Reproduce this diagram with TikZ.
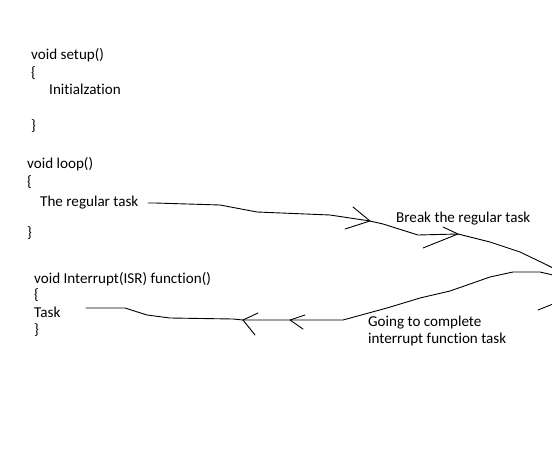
\documentclass[tikz,border=0pt]{standalone}
\usepackage{fontspec}
\setmainfont[Ligatures={NoCommon}]{Carlito}
\usetikzlibrary{positioning}

\tikzset{
  codetext/.style={anchor=base west, inner sep=0pt, font=\fontsize{15.1}{18}\selectfont},
  sketch/.style={line width=0.9pt, line join=round, line cap=round},
}

\begin{document}
\begin{tikzpicture}[x=1pt,y=-1pt]
              \useasboundingbox[fill=white] (0,0) rectangle (552,460);

              % Setup block
              \node[codetext] (setup) at (31,59.5) {void setup()};
              \node[codetext] (setupopen) at (31,77.5) {\{};
              \node[codetext] (init) at (49,95) {Initialzation};
              \node[codetext] (setupclose) at (31,131) {\}};

              % Loop block
              \node[codetext] (loop) at (27,168) {void loop()};
              \node[codetext] (loopopen) at (27,186) {\{};
              \node[codetext] (regular) at (40,206) {The regular task};
              \node[codetext] (loopclose) at (27,237) {\}};

              % Interrupt block
              \node[codetext] (isr) at (34,283) {void Interrupt(ISR) function()};
              \node[codetext] (isropen) at (34,299) {\{};
              \node[codetext] (task) at (34,317) {Task};
              \node[codetext] (isrclose) at (34,334) {\}};

              % Labels along the way
              \node[codetext] (break) at (396,222) {Break the regular task};
              \node[codetext] (going) at (368,326) {Going to complete};
              \node[codetext] (complete) at (368,343) {interrupt function task};

              % Points of the hand drawn path
              \coordinate (regstart) at (148,203);
              \coordinate (tipa) at (370,221);
              \coordinate (tipb) at (458,234);
              \coordinate (outtop) at (553,268);
              \coordinate (inlow) at (553,275);
              \coordinate (tipc) at (290,320);
              \coordinate (tipd) at (243,320);
              \coordinate (taskend) at (86,308);

              % Going out to the interrupt
              \draw[sketch] (regstart) -- (155,203) -- (220,205) -- (257,212) -- (330,215) -- (tipa)
                -- (383,224) -- (418,235) -- (tipb) -- (490,242) -- (520,252) -- (547,265) -- (outtop);
              \draw[sketch] (353,207) -- (tipa) -- (345,229);
              \draw[sketch] (443,227) -- (tipb) -- (423,248);

              % Coming back to the task
              \draw[sketch] (inlow) -- (540,272) -- (513,272) -- (490,277) -- (450,291) -- (420,298)
                -- (387,308) -- (343,320) -- (tipc) -- (tipd) -- (233,319) -- (170,318) -- (147,315)
                -- (125,308) -- (taskend);
              \draw[sketch] (305,315) -- (tipc) -- (303,329);
              \draw[sketch] (258,313) -- (tipd) -- (255,335);
              \draw[sketch] (538,310) -- (553,304);
\end{tikzpicture}
\end{document}
